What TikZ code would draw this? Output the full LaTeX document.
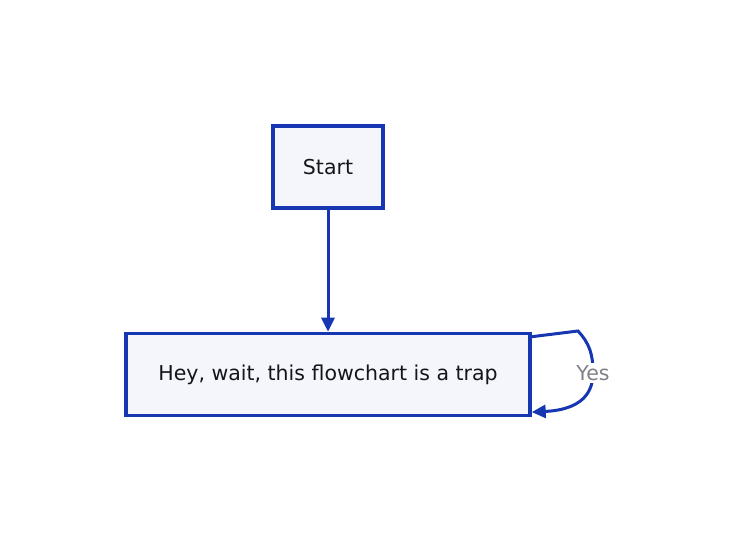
\documentclass[tikz,border=0pt]{standalone}
\usepackage{fontspec}
\setmainfont{DejaVu Sans}
\usetikzlibrary{arrows.meta,positioning}

\begin{document}
\begin{tikzpicture}
    [x=1pt,y=-1pt,
    % Styles
    box/.style={draw=boxcolor,line width=3.4pt,fill=fillcolor,minimum height=82pt,
      inner sep=0pt,font=\fontsize{20.5}{24}\selectfont,text=textcolor},
    flow line/.style={draw=boxcolor,line width=3pt,-{Triangle[length=14pt,width=13pt]}},
    edge label/.style={fill=white,text=labelcolor,font=\fontsize{20.5}{24}\selectfont,inner sep=2pt}]

    % Colors
    \definecolor{boxcolor}{RGB}{22,54,178}
    \definecolor{fillcolor}{RGB}{245,246,252}
    \definecolor{textcolor}{RGB}{20,20,30}
    \definecolor{labelcolor}{RGB}{128,128,136}

    % Page
    \useasboundingbox (0,0) rectangle (735,542);

    % Boxes
    \node[box,minimum width=110pt] (start) at (328,167) {Start};
    \node[box,minimum width=404pt,below=122pt of start] (trap) {Hey, wait, this flowchart is a trap};

    % Arrows
    \draw[flow line] (start) -- (trap);
    \draw[flow line] ([yshift=-5pt]trap.north east) -- (578,331)
      .. controls (590,344) and (593,355) .. (593,373) node[edge label] {Yes}
      .. controls (593,398) and (575,410) .. ([yshift=5pt]trap.south east);
\end{tikzpicture}
\end{document}
